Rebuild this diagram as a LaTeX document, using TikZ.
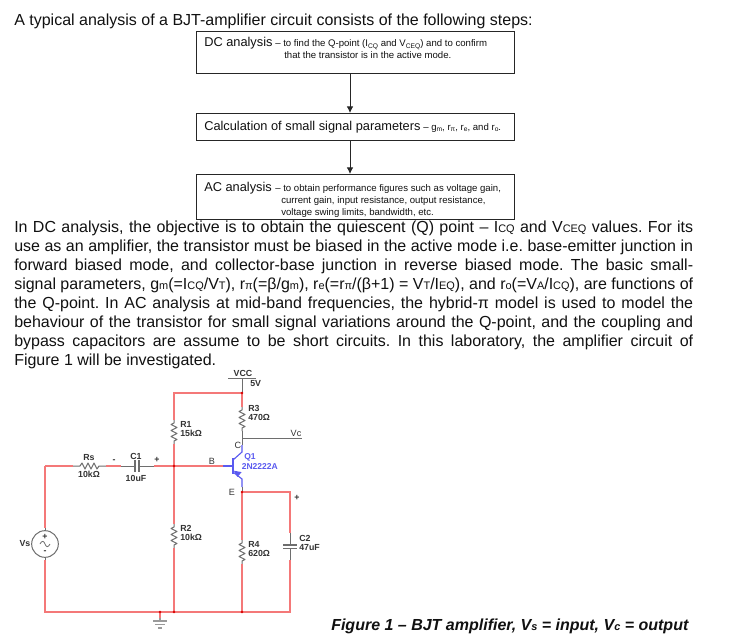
\documentclass[tikz,border=0pt]{standalone}
\usepackage{fontspec}
\setmainfont{Liberation Sans}
\usetikzlibrary{arrows.meta}
\definecolor{wirered}{HTML}{F47878}
\definecolor{leadgray}{HTML}{6E6E6E}
\definecolor{qblue}{HTML}{5A5AF0}
\definecolor{inktext}{HTML}{111111}
\newcommand{\sm}[1]{{\fontsize{8.2}{9}\selectfont #1}}
\newcommand{\ssb}[1]{{\fontsize{5}{5.5}\selectfont\raisebox{-0.8pt}{#1}}}
\newcommand{\bigt}{\fontsize{9.6}{11}\selectfont}
\newcommand{\tnf}{\fontsize{7.2}{8.5}\selectfont}
\newcommand{\bodyf}{\fontsize{12}{14}\selectfont}
\newcommand{\jl}[1]{\makebox[509.2pt][s]{#1}}
\tikzset{
  x=0.75pt,y=-0.75pt,
  flowbox/.style={draw=black!85,line width=0.9pt,inner sep=0pt,anchor=north west,minimum width=238.5pt},
  flowtext/.style={anchor=base west,inner sep=0pt,text=inktext},
  flowarrow/.style={draw=black!85,line width=0.7pt,-{Latex[length=5pt,width=5pt]}},
  bodytext/.style={anchor=base west,inner sep=0pt,font=\bodyf\frenchspacing,text=inktext},
  wire/.style={draw=wirered,line width=1pt},
  lead/.style={draw=leadgray,line width=0.75pt},
  bjt/.style={draw=qblue,line width=0.85pt},
  dot/.style={circle,fill=red!85!black,inner sep=0pt,minimum size=2.2pt},
  clabel/.style={inner sep=0pt,font=\fontsize{6.6}{7.5}\selectfont\bfseries,text=black!80},
  qlabel/.style={inner sep=0pt,font=\fontsize{6.4}{7}\selectfont\bfseries,text=qblue},
  vres/.pic={\draw[lead,line join=round] (0,0)--(0,3)--(-3,4.5)--(3,7.5)--(-3,10.5)--(3,13.5)--(-3,16.5)--(3,19.5)--(0,21)--(0,24);},
  hres/.pic={\draw[lead,line join=round] (0,0)--(7,0)--(9,-3)--(12,3)--(15,-3)--(18,3)--(21,-3)--(24,3)--(26,0)--(33,0);}
}
\begin{document}
\begin{tikzpicture}
\useasboundingbox (0,0) rectangle (734,635);
\fill[white] (0,0) rectangle (734,635);
% title
\node[bodytext] (title) at (14,26) {A typical analysis of a BJT-amplifier circuit consists of the following steps:};
% flow boxes
\node[flowbox,minimum height=31.5pt] (dc) at (196,31) {};
\node[flowbox,minimum height=20.25pt] (calc) at (196,113) {};
\node[flowbox,minimum height=33.75pt] (ac) at (196,174) {};
\node[flowtext,font=\bigt] (dct) at (204,47) {DC analysis};
\node[flowtext,font=\tnf] (dca) at (275,47) {-- to find the Q-point (I\ssb{CQ} and V\ssb{CEQ}) and to confirm};
\node[flowtext,font=\tnf] (dcb) at (284,59) {that the transistor is in the active mode.};
\node[flowtext,font=\bigt] (calct) at (204,130) {Calculation of small signal parameters};
\node[flowtext,font=\tnf] (calca) at (423,130) {-- g\ssb{m}, r\ssb{π}, r\ssb{e}, and r\ssb{o}.};
\node[flowtext,font=\bigt] (act) at (204,191) {AC analysis};
\node[flowtext,font=\tnf] (aca) at (275,191) {-- to obtain performance figures such as voltage gain,};
\node[flowtext,font=\tnf] (acb) at (281,203) {current gain, input resistance, output resistance,};
\node[flowtext,font=\tnf] (acc) at (281,215) {voltage swing limits, bandwidth, etc.};
\draw[flowarrow] (dc.south -| 350,0) -- (calc.north -| 350,0);
\draw[flowarrow] (calc.south -| 350,0) -- (ac.north -| 350,0);
% body
\node[bodytext] (l1) at (14,232.5) {\jl{In DC analysis, the objective is to obtain the quiescent (Q) point -- I\sm{CQ} and V\sm{CEQ} values. For its}};
\node[bodytext] (l2) at (14,251.5) {\jl{use as an amplifier, the transistor must be biased in the active mode i.e. base-emitter junction in}};
\node[bodytext] (l3) at (14,270.5) {\jl{forward biased mode, and collector-base junction in reverse biased mode. The basic small-}};
\node[bodytext] (l4) at (14,289.5) {\jl{signal parameters, g\sm{m}(=I\sm{CQ}/V\sm{T}), r\sm{π}(=β/g\sm{m}), r\sm{e}(=r\sm{π}/(β+1) = V\sm{T}/I\sm{EQ}), and r\sm{o}(=V\sm{A}/I\sm{CQ}), are functions of}};
\node[bodytext] (l5) at (14,308.5) {\jl{the Q-point. In AC analysis at mid-band frequencies, the hybrid-π model is used to model the}};
\node[bodytext] (l6) at (14,327.5) {\jl{behaviour of the transistor for small signal variations around the Q-point, and the coupling and}};
\node[bodytext] (l7) at (14,346.5) {\jl{bypass capacitors are assume to be short circuits. In this laboratory, the amplifier circuit of}};
\node[bodytext] (l8) at (14,365.5) {Figure 1 will be investigated.};
% circuit coordinates
\coordinate (vcc) at (242,378);
\coordinate (top) at (242,393);
\coordinate (topl) at (174,393);
\coordinate (base) at (174,466);
\coordinate (bot) at (174,612);
\coordinate (botr) at (242,612);
\coordinate (botc) at (290,612);
\coordinate (botg) at (160,612);
\coordinate (botl) at (45,612);
\coordinate (emit) at (242,492);
\coordinate (emr) at (290,492);
\coordinate (coll) at (242,438);
\coordinate (vcout) at (302,438);
\coordinate (inl) at (45,466);
% wires
\draw[lead] (228,378) -- (256,378);
\draw[lead] (vcc) -- (top);
\draw[wire] (top) -- (topl) -- (174,420);
\draw[wire] (top) -- (242,407);
\pic at (242,407) {vres};
\draw[lead] (242,431) -- (coll) -- (vcout);
\pic at (174,420) {vres};
\draw[wire] (174,444) -- (174,524);
\pic at (174,524) {vres};
\draw[wire] (174,548) -- (bot);
\draw[wire] (base) -- (223,466);
\draw[wire] (inl) -- (73,466);
\pic at (73,466) {hres};
\draw[wire] (106,466) -- (121,466);
\draw[lead] (121,466) -- (135,466);
\draw[lead,line width=1.1pt] (135,460) -- (135,472);
\draw[lead,line width=1.1pt] (139,460) -- (139,472);
\draw[lead] (139,466) -- (154,466);
\draw[wire] (154,466) -- (base);
% source
\draw[wire] (inl) -- (45,528);
\node[circle,draw=leadgray,line width=0.75pt,minimum size=20pt,inner sep=0pt] (vs) at (45,544) {};
\draw[lead] (45,528) -- (vs.north);
\draw[lead] (45,560) -- (vs.south);
\draw[lead,line width=0.6pt] (40,544) .. controls (42,540) and (44,541) .. (45,544) .. controls (46,547) and (48,548) .. (50,544);
\node[clabel] (vsp) at (45,537) {+};
\node[clabel] (vsm) at (45,552) {-};
\draw[wire] (45,560) -- (botl) -- (botc) -- (290,560);
% transistor
\draw[bjt] (223,466) -- (233,466);
\draw[bjt] (242,445) -- (242,452) -- (233,460);
\draw[bjt,line width=1.1pt] (233,458) -- (233,474);
\draw[bjt] (233,472) -- (242,479) -- (242,487);
\draw[bjt,fill=qblue] (237.5,476) -- (235,471.5) -- (240.5,472.5) -- cycle;
\draw[lead] (coll) -- (242,445);
\draw[lead] (242,487) -- (emit);
% emitter side
\draw[wire] (emit) -- (emr) -- (290,533);
\draw[wire] (emit) -- (242,540);
\pic at (242,540) {vres};
\draw[wire] (242,564) -- (botr);
\draw[lead] (290,533) -- (290,545);
\draw[lead,line width=1.1pt] (283,545) -- (297,545);
\draw[lead,line width=1.1pt] (283,548.5) -- (297,548.5);
\draw[lead] (290,548.5) -- (290,560);
% ground
\draw[wire] (botg) -- (160,618);
\draw[leadgray!70,line width=0.8pt] (160,618) -- (160,621);
\draw[leadgray!70,line width=0.8pt] (153,621) -- (167,621);
\draw[leadgray!70,line width=0.8pt] (155,624.5) -- (165,624.5);
\draw[leadgray!70,line width=0.8pt] (158,628) -- (162,628);
% dots
\foreach \p in {top,base,bot,botr,botg,emit} \node[dot] at (\p) {};
% labels
\node[clabel] (lvcc) at (243,373.5) {VCC};
\node[clabel,anchor=west] (l5v) at (250,384) {5V};
\node[clabel,anchor=west] (lr3) at (248,408.5) {R3};
\node[clabel,anchor=west] (lr3v) at (248,417.5) {470Ω};
\node[clabel,anchor=west] (lr1) at (180,424) {R1};
\node[clabel,anchor=west] (lr1v) at (180,433) {15kΩ};
\node[clabel,font=\fontsize{6.8}{7.5}\selectfont] (lvc) at (296,433.5) {Vc};
\node[clabel,font=\fontsize{6.8}{7.5}\selectfont] (lc) at (238,445) {C};
\node[qlabel,anchor=west] (lq) at (244,457) {Q1};
\node[qlabel,anchor=west] (lq2) at (241.5,467) {2N2222A};
\node[clabel,font=\fontsize{6.8}{7.5}\selectfont] (lb) at (212,461) {B};
\node[clabel,font=\fontsize{6.8}{7.5}\selectfont] (le) at (232,492) {E};
\node[clabel] (lplus3) at (297,498) {+};
\node[clabel,anchor=west] (lr2) at (180,528) {R2};
\node[clabel,anchor=west] (lr2v) at (180,537) {10kΩ};
\node[clabel,anchor=west] (lr4) at (248,544) {R4};
\node[clabel,anchor=west] (lr4v) at (248,553) {620Ω};
\node[clabel,anchor=west] (lc2) at (299,538.5) {C2};
\node[clabel,anchor=west] (lc2v) at (299,547.5) {47uF};
\node[clabel] (lrs) at (89,458) {Rs};
\node[clabel] (lrsv) at (89,474.5) {10kΩ};
\node[clabel] (lc1) at (136,456) {C1};
\node[clabel] (lc1v) at (136,478) {10uF};
\node[clabel] (lminus) at (114,461.5) {-};
\node[clabel] (lplus1) at (157,460) {+};
\node[clabel] (lvs) at (25,544) {Vs};
% caption
\node[anchor=base west,inner sep=0pt,font=\fontsize{12}{14}\selectfont\bfseries\itshape,text=inktext] (cap) at (331,630)
  {Figure 1 -- BJT amplifier, V\sm{s} = input, V\sm{c} = output};
\end{tikzpicture}
\end{document}
